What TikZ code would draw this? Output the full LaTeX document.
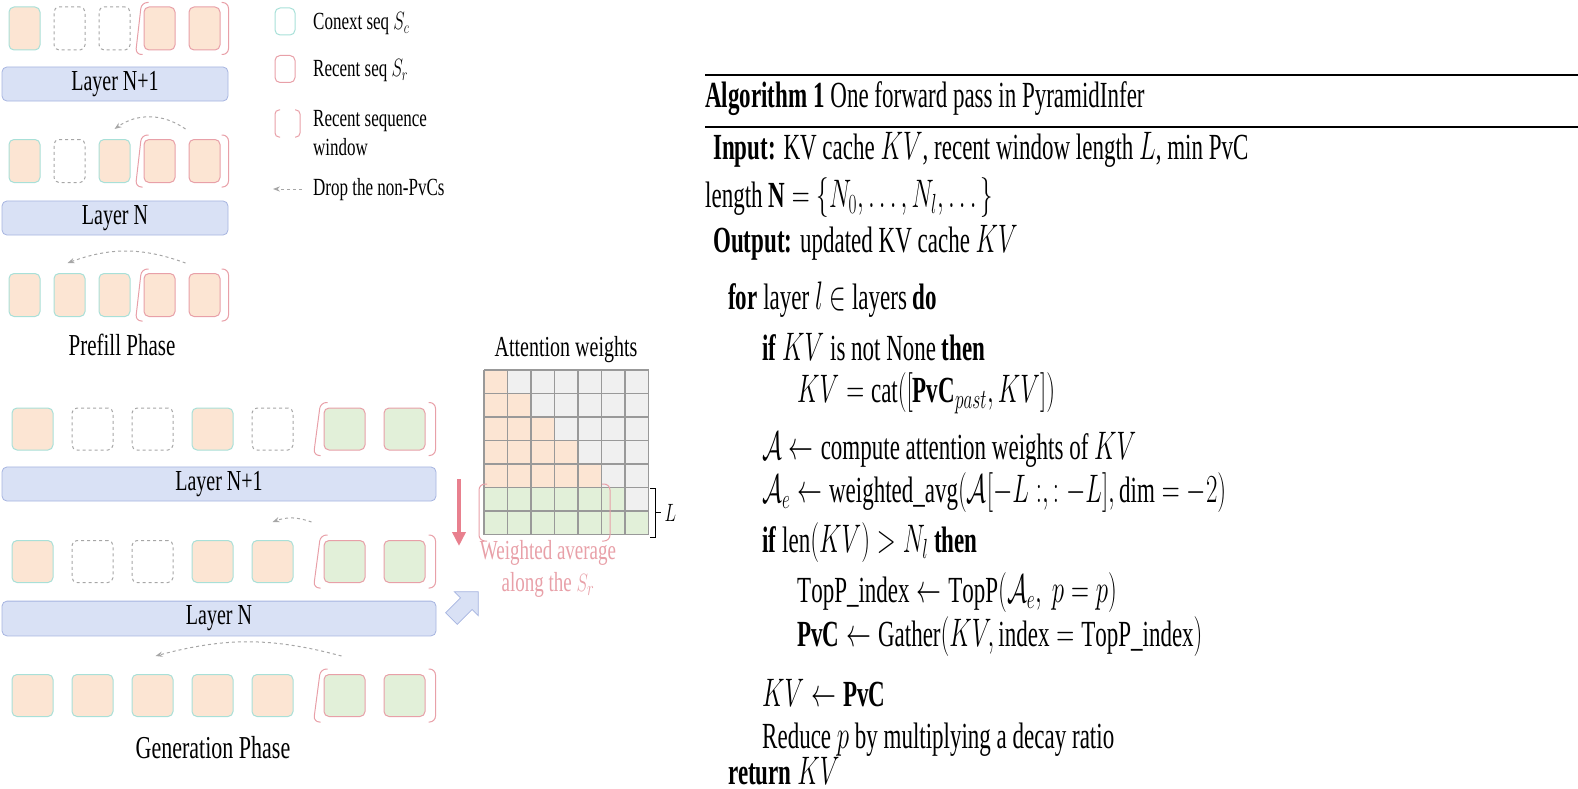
\documentclass[tikz,border=0pt]{standalone}
\usepackage{amsmath,amssymb}
\usepackage{fontspec}
\setmainfont{Liberation Serif}
\usetikzlibrary{calc, positioning, shapes.arrows, arrows.meta}
\definecolor{ctxfill}{HTML}{FCE5D3}
\definecolor{ctxline}{HTML}{A8E0D8}
\definecolor{recline}{HTML}{E8A0A8}
\definecolor{recfill}{HTML}{E2F0D9}
\definecolor{barfill}{HTML}{D9E1F5}
\definecolor{barline}{HTML}{A6B4E0}
\definecolor{cellgray}{HTML}{F0F0F0}
\definecolor{redarrow}{HTML}{E8808E}

\begin{document}
\begin{tikzpicture}[x=1pt, y=-1pt]
        % Styles
        \tikzset{
          tok/.style={rounded corners=5pt, line width=1pt, minimum width=31pt, minimum height=43pt, inner sep=0pt},
          bc/.style={tok, fill=ctxfill, draw=ctxline},
          bd/.style={tok, draw=gray!70, dashed},
          bo/.style={tok, fill=ctxfill, draw=recline},
          bg/.style={tok, fill=recfill, draw=recline},
          layer/.style={rounded corners=5pt, fill=barfill, draw=barline, line width=0.8pt, inner sep=0pt,
            font=\fontsize{20}{22}\selectfont, yscale=1.45},
          window/.style={draw=recline, line width=1pt, rounded corners=6pt},
          droparrow/.style={draw=gray!70, dashed, line width=1pt, -{Stealth[length=7pt]}},
          lbl/.style={inner sep=0pt, font=\fontsize{17}{20}\selectfont, yscale=1.45},
          alg/.style={anchor=west, inner sep=0pt, font=\fontsize{23}{26}\selectfont, yscale=1.6}
        }
        \useasboundingbox (0,0) rectangle (1578,789);

        % prefill phase
        \foreach \row/\y/\list in {1/28.5/{c,d,d,o,o}, 2/161/{c,d,c,o,o}, 3/295/{c,c,c,o,o}} {
          \foreach \t [count=\i] in \list
            \node[b\t] (p\row-\i) at ({24.5+45*(\i-1)}, \y) {};
          \draw[window] ([xshift=-2pt,yshift=4pt]p\row-4.north west) ++(7,0) -- ++(-7,0) -- ([xshift=-8pt,yshift=-4pt]p\row-4.south west) -- ++(7,0);
          \draw[window] ([xshift=1pt,yshift=4pt]p\row-5.north east) -- ++(7,0) -- ([xshift=8pt,yshift=-4pt]p\row-5.south east) -- ++(-7,0);
        }
        \node[layer, minimum width=226pt, minimum height=23.5pt] (pl2) at (115,84) {Layer N+1};
        \node[layer, minimum width=226pt, minimum height=23.5pt] (pl1) at (115,218) {Layer N};
        \draw[droparrow] ([xshift=10pt,yshift=10pt]p2-4.north east) to[bend right=35] ([yshift=10pt]p2-3.north);
        \draw[droparrow] ([xshift=10pt,yshift=10pt]p3-4.north east) to[bend right=20] ([xshift=-2pt,yshift=10pt]p3-2.north);
        \node[lbl, font=\fontsize{21}{24}\selectfont] (prefill) at (122,345) {Prefill Phase};

        % legend
        \node[tok, fill=none, draw=ctxline, minimum width=20pt, minimum height=27pt] (lc) at (285,21.5) {};
        \node[tok, fill=none, draw=recline, minimum width=20pt, minimum height=27pt] (lr) at (285,69) {};
        \coordinate (lw1) at (282,110); \coordinate (lw2) at (282,137);
        \draw[window, rounded corners=4pt] ($(lw1)+(-2,0)$) -- ++(-5,0) -- ($(lw2)+(-7,0)$) -- ++(5,0);
        \draw[window, rounded corners=4pt] ($(lw1)+(13,0)$) -- ++(5,0) -- ($(lw2)+(18,0)$) -- ++(-5,0);
        \coordinate (ld1) at (302,189); \coordinate (ld2) at (273,189);
        \draw[droparrow] (ld1) -- (ld2);
        \node[lbl, anchor=west] (tc) at (313,24) {Conext seq $S_c$};
        \node[lbl, anchor=west] (tr) at (313,71) {Recent seq $S_r$};
        \node[lbl, anchor=west, align=left, font=\fontsize{17}{20}\selectfont] (tw) at (313,133) {Recent sequence\\window};
        \node[lbl, anchor=west] (td) at (313,190) {Drop the non-PvCs};

        % generation phase
        \foreach \row/\y/\list in {1/429/{c,d,d,c,d,g,g}, 2/561.5/{c,d,d,c,c,g,g}, 3/695.5/{c,c,c,c,c,g,g}} {
          \foreach \t [count=\i] in \list
            \node[b\t, minimum width=41pt, minimum height=42pt] (g\row-\i) at ({32.5+60*(\i-1)+(\i>5 ? 12 : 0)}, \y) {};
          \draw[window] ([xshift=-3pt,yshift=5pt]g\row-6.north west) ++(7,0) -- ++(-7,0) -- ([xshift=-10pt,yshift=-5pt]g\row-6.south west) -- ++(7,0);
          \draw[window] ([xshift=3pt,yshift=5pt]g\row-7.north east) -- ++(7,0) -- ([xshift=10pt,yshift=-5pt]g\row-7.south east) -- ++(-7,0);
        }
        \node[layer, minimum width=434pt, minimum height=23.5pt] (gl2) at (219,484) {Layer N+1};
        \node[layer, minimum width=434pt, minimum height=24pt] (gl1) at (219,618.5) {Layer N};
        \draw[droparrow] ([xshift=-12pt,yshift=18pt]g2-6.north west) to[bend right=20] ([xshift=0pt,yshift=18pt]g2-5.north);
        \draw[droparrow] ([xshift=-3pt,yshift=18pt]g3-6.north) to[bend right=15] ([xshift=3pt,yshift=18pt]g3-3.north);
        \node[lbl, font=\fontsize{22}{24}\selectfont] (generation) at (213,748) {Generation Phase};

        % attention weights
        \node[lbl, font=\fontsize{20}{24}\selectfont] (attn) at (566,350) {Attention weights};
        \begin{scope}[shift={(484,370)}]
          \fill[cellgray] (0,0) rectangle (164.5,164.5);
          \foreach \r in {1,...,5}
            \fill[ctxfill] (0,{23.5*(\r-1)}) rectangle ({23.5*\r},{23.5*\r});
          \fill[recfill] (0,117.5) rectangle (141,141);
          \fill[recfill] (0,141) rectangle (164.5,164.5);
          \foreach \k in {0,...,7} {
            \draw[gray!80, line width=1.2pt] ({23.5*\k},0) -- ({23.5*\k},164.5);
            \draw[gray!80, line width=1.2pt] (0,{23.5*\k}) -- (164.5,{23.5*\k});
          }
          \coordinate (sw) at (-5,114); \coordinate (se) at (126,171);
          \coordinate (lb1) at (171,118); \coordinate (lb2) at (171,167);
        \end{scope}
        \draw[window] ($(sw)+(8,0)$) -- (sw) -- (sw |- se) -- ++(8,0);
        \draw[window] ($(se)+(-8,0)$) -- (se) -- (se |- sw) -- ++(-8,0);
        \draw[line width=1pt] ($(lb1)+(-5,0)$) -- (lb1) -- (lb2) -- ++(-5,0);
        \draw[line width=1pt] ($(lb1)!0.5!(lb2)$) -- ++(6,0) node[lbl, right=3pt] (ltxt) {$L$};
        \coordinate (ra1) at (459,479); \coordinate (ra2) at (459,546);
        \draw[redarrow, line width=4pt, -{Triangle[length=14pt, width=13pt]}] (ra1) -- (ra2);
        \node[lbl, text=recline, align=center, font=\fontsize{19}{22}\selectfont] (wavg) at (548,569) {Weighted average\\along the $S_r$};
        \node[single arrow, fill=barfill, draw=barline, line width=0.8pt, minimum height=38pt, minimum width=34pt,
          single arrow head extend=4pt, rotate=45] (blue) at (462,608) {};

        % algorithm
        \draw[line width=2.5pt] (705,75) -- (1578,75);
        \draw[line width=1.2pt] (705,127) -- (1578,127);
        \node[alg] (a0) at (705,99) {\textbf{Algorithm 1} One forward pass in PyramidInfer};
        \node[alg] (a1) at (713,150) {\textbf{Input:} KV cache $KV$, recent window length $L$, min PvC};
        \node[alg] (a2) at (705,198) {length $\mathbf{N}=\{N_0,\dots,N_l,\dots\}$};
        \node[alg] (a3) at (713,243) {\textbf{Output:} updated KV cache $KV$};
        \node[alg] (a4) at (728,300) {\textbf{for} layer $l\in$ layers \textbf{do}};
        \node[alg] (a5) at (762,347) {\textbf{if} $KV$ is not None \textbf{then}};
        \node[alg] (a6) at (797,393) {$KV=\mathrm{cat}([\mathbf{PvC}_{past},KV])$};
        \node[alg] (a7) at (762,450) {$\mathcal{A}\leftarrow \text{compute attention weights of } KV$};
        \node[alg] (a8) at (762,493) {$\mathcal{A}_e\leftarrow \mathrm{weighted\_avg}(\mathcal{A}[-L:,:-L],\mathrm{dim}=-2)$};
        \node[alg] (a9) at (762,543) {\textbf{if} $\mathrm{len}(KV)>N_l$ \textbf{then}};
        \node[alg] (a10) at (797,593) {$\mathrm{TopP\_index}\leftarrow\mathrm{TopP}(\mathcal{A}_e,\ p=p)$};
        \node[alg] (a11) at (797,637) {$\mathbf{PvC}\leftarrow\mathrm{Gather}(KV,\mathrm{index}=\mathrm{TopP\_index})$};
        \node[alg] (a12) at (762,693) {$KV\leftarrow\mathbf{PvC}$};
        \node[alg] (a13) at (762,740) {Reduce $p$ by multiplying a decay ratio};
        \node[alg] (a14) at (728,771) {\textbf{return} $KV$};
\end{tikzpicture}
\end{document}
